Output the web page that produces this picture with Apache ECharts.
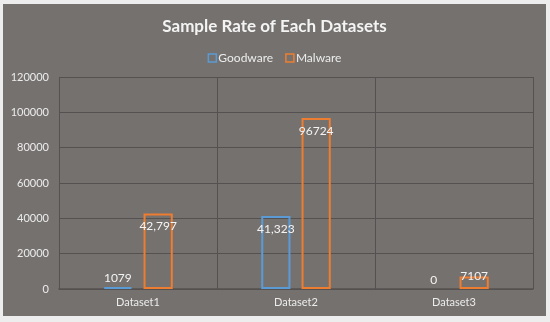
<!DOCTYPE html>
<html>
<head>
<meta charset="utf-8">
<script src="https://cdn.jsdelivr.net/npm/echarts@6/dist/echarts.min.js"></script>
<style>
  html, body { margin: 0; padding: 0; width: 550px; height: 322px; background: #ededed; overflow: hidden; }
  #chart { position: absolute; left: 3px; top: 4px; width: 543px; height: 312px; background: #75716f; }
</style>
</head>
<body>
<div id="chart"></div>
<script>
const categories = ['Dataset1', 'Dataset2', 'Dataset3'];
const goodwareValues = [1079, 41323, 0];
const malwareValues = [42797, 96724, 7107];
const goodwareLabels = ['1079', '41,323', '0'];
const malwareLabels = ['42,797', '96724', '7107'];
const yTicks = [0, 20000, 40000, 60000, 80000, 100000, 120000];

const FONT = 'Lato, "Open Sans", sans-serif';
const TXT = '#ececec';

function makeData(values, labels) {
  return values.map((v, i) => {
    let label;
    if (v > 20000) {
      label = { position: 'insideTop', distance: 7 };
    } else if (v > 5000) {
      label = { position: 'top', distance: -6 };
    } else {
      label = { position: 'top', distance: 3 };
    }
    label.formatter = labels[i];
    const item = { value: v, label: label };
    if (v === 0) item.itemStyle = { borderWidth: 0 };
    return item;
  });
}

const chart = echarts.init(document.getElementById('chart'), null, { renderer: 'canvas' });
chart.setOption({
  backgroundColor: 'transparent',
  animation: false,
  title: {
    text: 'Sample Rate of Each Datasets',
    left: 'center',
    top: 9,
    textStyle: { color: '#f4f4f4', fontSize: 17, fontWeight: 'bold', fontFamily: FONT }
  },
  legend: {
    top: 43,
    left: 'center',
    itemWidth: 8,
    itemHeight: 8,
    itemGap: 12,
    textStyle: { color: TXT, fontSize: 12, fontFamily: FONT, padding: [0, 0, 0, -3] },
    data: [
      { name: 'Goodware', icon: 'rect', itemStyle: { color: 'transparent', borderColor: '#5b9bd5', borderWidth: 1.5 } },
      { name: 'Malware', icon: 'rect', itemStyle: { color: 'transparent', borderColor: '#ed7d31', borderWidth: 1.5 } }
    ]
  },
  grid: { left: 56, right: 13, top: 73, bottom: 27 },
  xAxis: {
    type: 'category',
    data: categories,
    boundaryGap: true,
    axisLine: { show: true, lineStyle: { color: '#555150', width: 1.5 } },
    axisTick: { show: false },
    axisLabel: { color: TXT, fontSize: 11, fontFamily: FONT, margin: 8 },
    splitLine: { show: true, lineStyle: { color: '#555150', width: 1 } }
  },
  yAxis: {
    type: 'value',
    min: yTicks[0],
    max: yTicks[yTicks.length - 1],
    interval: yTicks[1] - yTicks[0],
    axisLine: { show: false },
    axisTick: { show: false },
    axisLabel: { color: TXT, fontSize: 11, fontFamily: FONT, margin: 10, formatter: v => String(v) },
    splitLine: { show: true, lineStyle: { color: '#555150', width: 1 } }
  },
  series: [
    {
      name: 'Goodware',
      type: 'bar',
      barGap: '38%',
      barCategoryGap: '56%',
      itemStyle: { color: 'transparent', borderColor: '#5b9bd5', borderWidth: 2 },
      label: { show: true, color: '#f4f4f4', fontSize: 12, fontFamily: FONT },
      data: makeData(goodwareValues, goodwareLabels)
    },
    {
      name: 'Malware',
      type: 'bar',
      barGap: '38%',
      barCategoryGap: '56%',
      itemStyle: { color: 'transparent', borderColor: '#ed7d31', borderWidth: 2 },
      label: { show: true, color: '#f4f4f4', fontSize: 12, fontFamily: FONT },
      data: makeData(malwareValues, malwareLabels)
    }
  ]
});
</script>
</body>
</html>
